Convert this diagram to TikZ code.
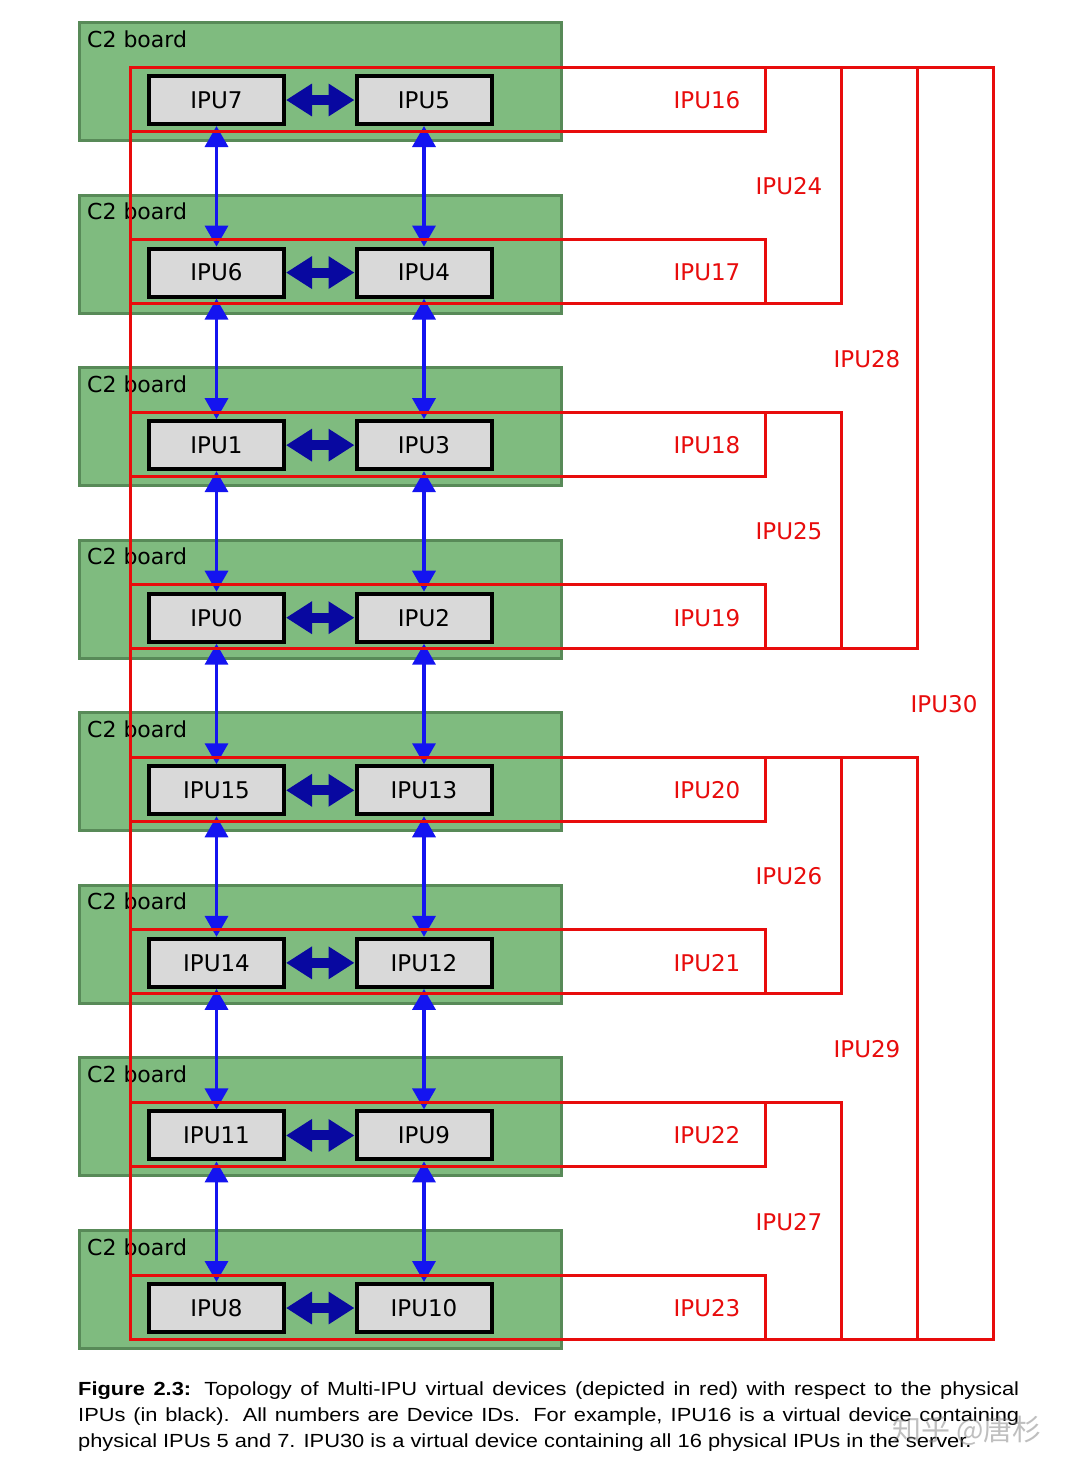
\documentclass[tikz,border=0pt]{standalone}
\usepackage{fontspec}
\setmainfont{DejaVu Sans}
\newfontfamily\capfont[FakeStretch=1.15]{Liberation Sans}
\newfontfamily\cjkfont{Noto Sans CJK SC}
\usetikzlibrary{arrows.meta}
\definecolor{boardfill}{RGB}{127,187,127}
\definecolor{boarddraw}{RGB}{88,138,88}
\definecolor{ipufill}{RGB}{217,217,217}
\definecolor{vred}{RGB}{232,12,12}
\definecolor{linkblue}{RGB}{20,20,240}
\definecolor{linknavy}{RGB}{8,8,160}
\begin{document}
\begin{tikzpicture}[x=1pt,y=-1pt,
  board/.style={draw=boarddraw, fill=boardfill, line width=3pt, minimum width=482pt, minimum height=118pt, inner sep=0pt},
  boardlabel/.style={anchor=base west, inner sep=0pt, font=\fontsize{22}{26}\selectfont},
  ipu/.style={draw=black, fill=ipufill, line width=4pt, minimum width=135pt, minimum height=48pt, inner sep=0pt, font=\fontsize{23}{27}\selectfont},
  vlink/.style={draw=linkblue, line width=3.5pt, {Triangle[length=21pt,width=23pt]}-{Triangle[length=21pt,width=23pt]}},
  hlink/.style={draw=linknavy, line width=10pt, {Triangle[length=26pt,width=31pt]}-{Triangle[length=26pt,width=31pt]}},
  vdev/.style={draw=vred, line width=3pt},
  vlabel/.style={text=vred, inner sep=0pt, font=\fontsize{23}{27}\selectfont}
]
\useasboundingbox (0,0) rectangle (1080,1473);
\fill[white] (0,0) rectangle (1080,1473);
\def\p{172.57}
% boards and IPUs
\foreach \k/\a/\b in {0/7/5,1/6/4,2/1/3,3/0/2,4/15/13,5/14/12,6/11/9,7/8/10}{
  \pgfmathsetmacro{\by}{81.5+\k*\p}
  \pgfmathsetmacro{\iy}{100+\k*\p}
  \pgfmathsetmacro{\ly}{47+\k*\p}
  \node[board] (board\k) at (320.5,\by) {};
  \node[boardlabel] (blabel\k) at (87,\ly) {C2 board};
  \node[ipu] (ipu\a) at (216.5,\iy) {IPU\a};
  \node[ipu] (ipu\b) at (424,\iy) {IPU\b};
  \draw[hlink] (ipu\a.east) -- (ipu\b.west);
}
% vertical links
\foreach \u/\v in {7/6,6/1,1/0,0/15,15/14,14/11,11/8,5/4,4/3,3/2,2/13,13/12,12/9,9/10}{
  \draw[vlink] (ipu\u.south) -- (ipu\v.north);
}
% virtual devices, level 1
\foreach \k/\n in {0/16,1/17,2/18,3/19,4/20,5/21,6/22,7/23}{
  \pgfmathsetmacro{\ta}{67+\k*\p}
  \pgfmathsetmacro{\tb}{131+\k*\p}
  \pgfmathsetmacro{\iy}{100+\k*\p}
  \draw[vdev] (130,\ta) rectangle (765,\tb);
  \node[vlabel] (v\n) at (707,\iy) {IPU\n};
}
% level 2
\foreach \j/\n in {0/24,1/25,2/26,3/27}{
  \pgfmathsetmacro{\ta}{67+2*\j*\p}
  \pgfmathsetmacro{\tb}{131+(2*\j+1)*\p}
  \pgfmathsetmacro{\iy}{100+(2*\j+0.5)*\p}
  \draw[vdev] (130,\ta) rectangle (841,\tb);
  \node[vlabel] (v\n) at (789,\iy) {IPU\n};
}
% level 3
\foreach \j/\n in {0/28,1/29}{
  \pgfmathsetmacro{\ta}{67+4*\j*\p}
  \pgfmathsetmacro{\tb}{131+(4*\j+3)*\p}
  \pgfmathsetmacro{\iy}{100+(4*\j+1.5)*\p}
  \draw[vdev] (130,\ta) rectangle (917,\tb);
  \node[vlabel] (v\n) at (867,\iy) {IPU\n};
}
% level 4
\draw[vdev] (130,67) rectangle (993,{131+7*\p});
\node[vlabel] (v30) at (944,{100+3.5*\p}) {IPU30};
% caption
\node[anchor=north west, inner sep=0pt, text width=941pt, align=justify,
      font=\capfont\fontsize{19}{26}\selectfont] (caption) at (78,1382)
  {\textbf{Figure 2.3:} Topology of Multi-IPU virtual devices (depicted in red) with respect to the physical\linebreak
   IPUs (in black).  All numbers are Device IDs.  For example, IPU16 is a virtual device containing\linebreak
   physical IPUs 5 and 7. IPU30 is a virtual device containing all 16 physical IPUs in the server.};
\node[text=gray, opacity=0.5, inner sep=0pt, font=\cjkfont\fontsize{29}{30}\selectfont] (wm) at (967,1431) {知乎 @唐杉};
\end{tikzpicture}
\end{document}
